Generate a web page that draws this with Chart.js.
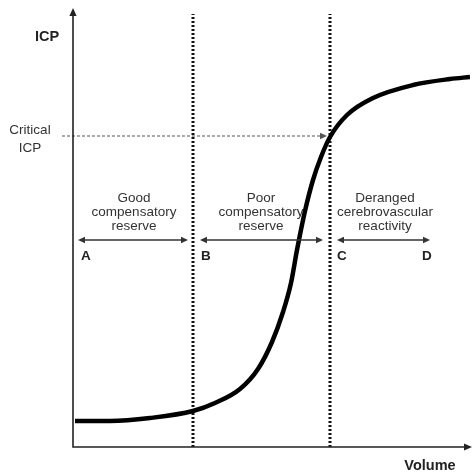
<!DOCTYPE html>
<html>
<head>
<meta charset="utf-8">
<script src="https://cdn.jsdelivr.net/npm/chart.js@4/dist/chart.umd.min.js"></script>
<style>
  body { margin: 0; background: #fff; }
  canvas { display: block; }
</style>
</head>
<body>
<canvas id="myChart" width="474" height="474"></canvas>
<script>
// curve (arbitrary volume / ICP units)
const volume = [2, 37, 77, 120, 142, 167, 185, 199, 210, 218, 224, 232, 240, 248, 257, 274, 300, 340, 377, 397];
const icp    = [26, 26, 29, 36, 44, 58, 78, 105, 135, 164, 197, 236, 267, 290, 310, 332, 349, 362, 368, 370];

const boundaryX = [120, 257];          // B and C
const boundaryTop = 433;
const criticalIcp = 311;

const regionLines = [
  ['Good', 'compensatory', 'reserve'],
  ['Poor', 'compensatory', 'reserve'],
  ['Deranged', 'cerebrovascular', 'reactivity']
];
const regionCenter = [61, 188, 312];
const regionFrom = [5, 127, 264];
const regionTo = [115, 250, 357];
const regionArrowY = 207;

const pointLetters = ['A', 'B', 'C', 'D'];
const letterX = [8, 128, 264, 349];
const letterY = 191;

function arrowHead(ctx, x, y, angle, size) {
  ctx.save();
  ctx.translate(x, y);
  ctx.rotate(angle);
  ctx.beginPath();
  ctx.moveTo(0, 0);
  ctx.lineTo(-size, -size * 0.45);
  ctx.lineTo(-size, size * 0.45);
  ctx.closePath();
  ctx.fill();
  ctx.restore();
}

const schematic = {
  id: 'schematic',
  beforeDatasetsDraw(chart) {
    const ctx = chart.ctx;
    const xs = chart.scales.x, ys = chart.scales.y;
    const area = chart.chartArea;
    ctx.save();
    // critical ICP dashed line
    const cy = ys.getPixelForValue(criticalIcp);
    ctx.strokeStyle = '#555';
    ctx.fillStyle = '#555';
    ctx.lineWidth = 1.2;
    ctx.setLineDash([3, 2]);
    ctx.beginPath();
    ctx.moveTo(area.left - 11, cy);
    ctx.lineTo(xs.getPixelForValue(boundaryX[1]) - 8, cy);
    ctx.stroke();
    ctx.setLineDash([]);
    arrowHead(ctx, xs.getPixelForValue(boundaryX[1]) - 3, cy, 0, 7);
    ctx.restore();
  },
  afterDraw(chart) {
    const ctx = chart.ctx;
    const xs = chart.scales.x, ys = chart.scales.y;
    const area = chart.chartArea;
    const cy = ys.getPixelForValue(criticalIcp);
    ctx.save();
    // axes with arrows
    ctx.strokeStyle = '#222';
    ctx.fillStyle = '#222';
    ctx.lineWidth = 1.6;
    ctx.beginPath();
    ctx.moveTo(area.left, area.top + 4);
    ctx.lineTo(area.left, area.bottom);
    ctx.lineTo(area.right, area.bottom);
    ctx.stroke();
    arrowHead(ctx, area.left, area.top, -Math.PI / 2, 8);
    arrowHead(ctx, area.right + 2, area.bottom, 0, 8);

    // region arrows and texts
    ctx.strokeStyle = '#333';
    ctx.fillStyle = '#333';
    ctx.lineWidth = 1.3;
    ctx.font = '13.5px "Liberation Sans", Arial, sans-serif';
    ctx.textAlign = 'center';
    ctx.textBaseline = 'middle';
    const ay = ys.getPixelForValue(regionArrowY);
    for (let i = 0; i < regionLines.length; i++) {
      const x1 = xs.getPixelForValue(regionFrom[i]);
      const x2 = xs.getPixelForValue(regionTo[i]);
      ctx.beginPath();
      ctx.moveTo(x1 + 3, ay);
      ctx.lineTo(x2 - 3, ay);
      ctx.stroke();
      arrowHead(ctx, x1, ay, Math.PI, 7);
      arrowHead(ctx, x2, ay, 0, 7);
      const cx = xs.getPixelForValue(regionCenter[i]);
      regionLines[i].forEach((t, j) => {
        ctx.fillText(t, cx, ay - 42 + j * 14);
      });
    }
    // letters
    ctx.fillStyle = '#222';
    ctx.font = 'bold 13.5px "Liberation Sans", Arial, sans-serif';
    ctx.textAlign = 'left';
    const ly = ys.getPixelForValue(letterY);
    pointLetters.forEach((t, i) => ctx.fillText(t, xs.getPixelForValue(letterX[i]), ly));

    // axis titles
    ctx.textAlign = 'center';
    ctx.font = 'bold 14.5px "Liberation Sans", Arial, sans-serif';
    ctx.fillText('ICP', area.left - 26, area.top + 29);
    ctx.fillText('Volume', area.right - 40, area.bottom + 19);
    ctx.fillStyle = '#333';
    ctx.font = '13.5px "Liberation Sans", Arial, sans-serif';
    ctx.fillText('Critical', area.left - 43, cy - 6);
    ctx.fillText('ICP', area.left - 43, cy + 12);
    ctx.restore();
  }
};

const curveData = volume.map((v, i) => ({ x: v, y: icp[i] }));

const boundarySets = boundaryX.map(bx => ({
  data: [{ x: bx, y: 0 }, { x: bx, y: boundaryTop }],
  borderColor: '#111',
  borderWidth: 3,
  borderDash: [2, 2],
  pointRadius: 0,
  fill: false
}));

const config = {
  type: 'line',
  data: {
    datasets: [{
      label: 'ICP',
      data: curveData,
      borderColor: '#000',
      borderWidth: 4.5,
      pointRadius: 0,
      cubicInterpolationMode: 'monotone',
      fill: false
    }, ...boundarySets]
  },
  options: {
    responsive: false,
    animation: false,
    layout: { padding: { left: 73, top: 8, right: 4, bottom: 27 } },
    plugins: { legend: { display: false }, tooltip: { enabled: false } },
    scales: {
      x: { type: 'linear', min: 0, max: 397, display: false },
      y: { type: 'linear', min: 0, max: 439, display: false }
    }
  },
  plugins: [schematic]
};

let myChart = new Chart(document.getElementById('myChart'), config);
</script>
</body>
</html>
